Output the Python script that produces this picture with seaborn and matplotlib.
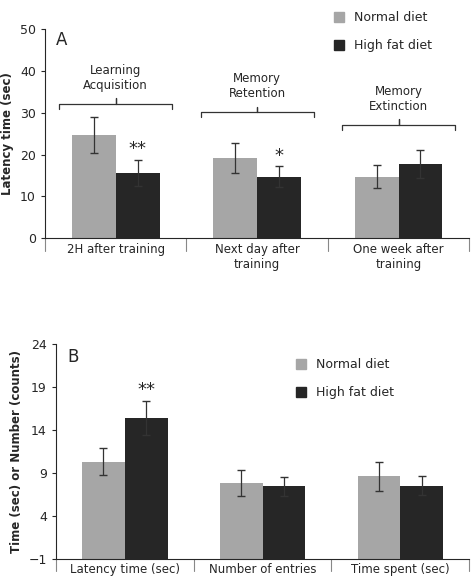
import numpy as np
import pandas as pd
import matplotlib
matplotlib.use("Agg")
import matplotlib.pyplot as plt
import seaborn as sns
from matplotlib.patches import Patch

# Panel A
cats_a = ["2H after training", "Next day after\ntraining", "One week after\ntraining"]
normal_a = [24.8, 19.2, 14.7]
normal_a_err = [4.3, 3.7, 2.7]
hfd_a = [15.6, 14.7, 17.7]
hfd_a_err = [3.2, 2.5, 3.3]
stars_a = ["**", "*", ""]
brace_labels = ["Learning\nAcquisition", "Memory\nRetention", "Memory\nExtinction"]

# Panel B
cats_b = ["Latency time (sec)", "Number of entries", "Time spent (sec)"]
normal_b = [10.3, 7.8, 8.6]
normal_b_err = [1.6, 1.5, 1.7]
hfd_b = [15.4, 7.4, 7.5]
hfd_b_err = [2.0, 1.1, 1.1]
stars_b = ["**", "", ""]

series = ["Normal diet", "High fat diet"]
colors = ["#a6a6a6", "#262626"]

sns.set_style("white")
plt.rcParams['font.family'] = ['DejaVu Sans']

fig = plt.figure(figsize=(4.74, 5.88), dpi=100)
ax_a = fig.add_axes([0.095, 0.595, 0.895, 0.355])
ax_b = fig.add_axes([0.118, 0.05, 0.872, 0.365])


def draw(ax, cats, nv, ne, hv, he, stars, base, star_gap):
    df = pd.DataFrame({"cat": cats * 2, "grp": [series[0]] * 3 + [series[1]] * 3,
                       "val": nv + hv})
    sns.barplot(data=df, x="cat", y="val", hue="grp", palette=colors, ax=ax,
                width=0.62, errorbar=None, legend=False, edgecolor="none")
    if base != 0:
        for p in ax.patches:
            h = p.get_height()
            p.set_y(base)
            p.set_height(h - base)
    x = np.arange(len(cats))
    off = 0.155
    ax.errorbar(x - off, nv, yerr=ne, fmt="none", ecolor="#333", capsize=3, lw=0.9)
    ax.errorbar(x + off, hv, yerr=he, fmt="none", ecolor="#333", capsize=3, lw=0.9)
    for i, s in enumerate(stars):
        if s:
            ax.text(x[i] + off, hv[i] + he[i] + star_gap, s, ha="center",
                    va="bottom", fontsize=13)
    ax.set_xlabel("")
    ax.tick_params(axis="x", length=0, labelsize=8.5)
    ax.tick_params(axis="y", labelsize=9, length=3, left=True)
    for sp in ["top", "right"]:
        ax.spines[sp].set_visible(False)
    for b in [-0.5, 0.5, 1.5, 2.5]:
        ax.plot([b, b], [0, -0.06], transform=ax.get_xaxis_transform(), color="#888",
                lw=0.8, clip_on=False)
    ax.set_xlim(-0.5, 2.5)


ax_a.set_ylim(0, 50)
ax_a.set_yticks(range(0, 51, 10))
draw(ax_a, cats_a, normal_a, normal_a_err, hfd_a, hfd_a_err, stars_a, 0, 0.3)
ax_a.set_ylabel("Latency time (sec)", fontsize=8.5, fontweight="bold")
ax_a.text(-0.42, 49.5, "A", fontsize=12, va="top")
brace_y = [31, 29, 26]
for i, (lab, by) in enumerate(zip(brace_labels, brace_y)):
    xs = [i - 0.4, i - 0.4, i, i, i, i + 0.4, i + 0.4]
    ys = [by, by + 1.2, by + 1.2, by + 2.5, by + 1.2, by + 1.2, by]
    ax_a.plot(xs, ys, color="#333", lw=0.9)
    ax_a.text(i, by + 4, lab, ha="center", va="bottom", fontsize=8.5)

ax_b.set_ylim(-1, 24)
ax_b.set_yticks(range(-1, 25, 5))
draw(ax_b, cats_b, normal_b, normal_b_err, hfd_b, hfd_b_err, stars_b, -1, 0.2)
ax_b.set_ylabel("Time (sec) or Number (counts)", fontsize=8.5, fontweight="bold")
ax_b.text(-0.42, 23.5, "B", fontsize=12, va="top")

handles = [Patch(color=c, label=s) for c, s in zip(colors, series)]
fig.legend(handles=handles, loc="upper left", bbox_to_anchor=(0.68, 1.0),
           frameon=False, fontsize=9, handlelength=0.8, handleheight=0.8, labelspacing=1.2)
fig.legend(handles=handles, loc="upper left", bbox_to_anchor=(0.6, 0.41),
           frameon=False, fontsize=9, handlelength=0.8, handleheight=0.8, labelspacing=1.2)

fig.savefig("out.png", dpi=100)
